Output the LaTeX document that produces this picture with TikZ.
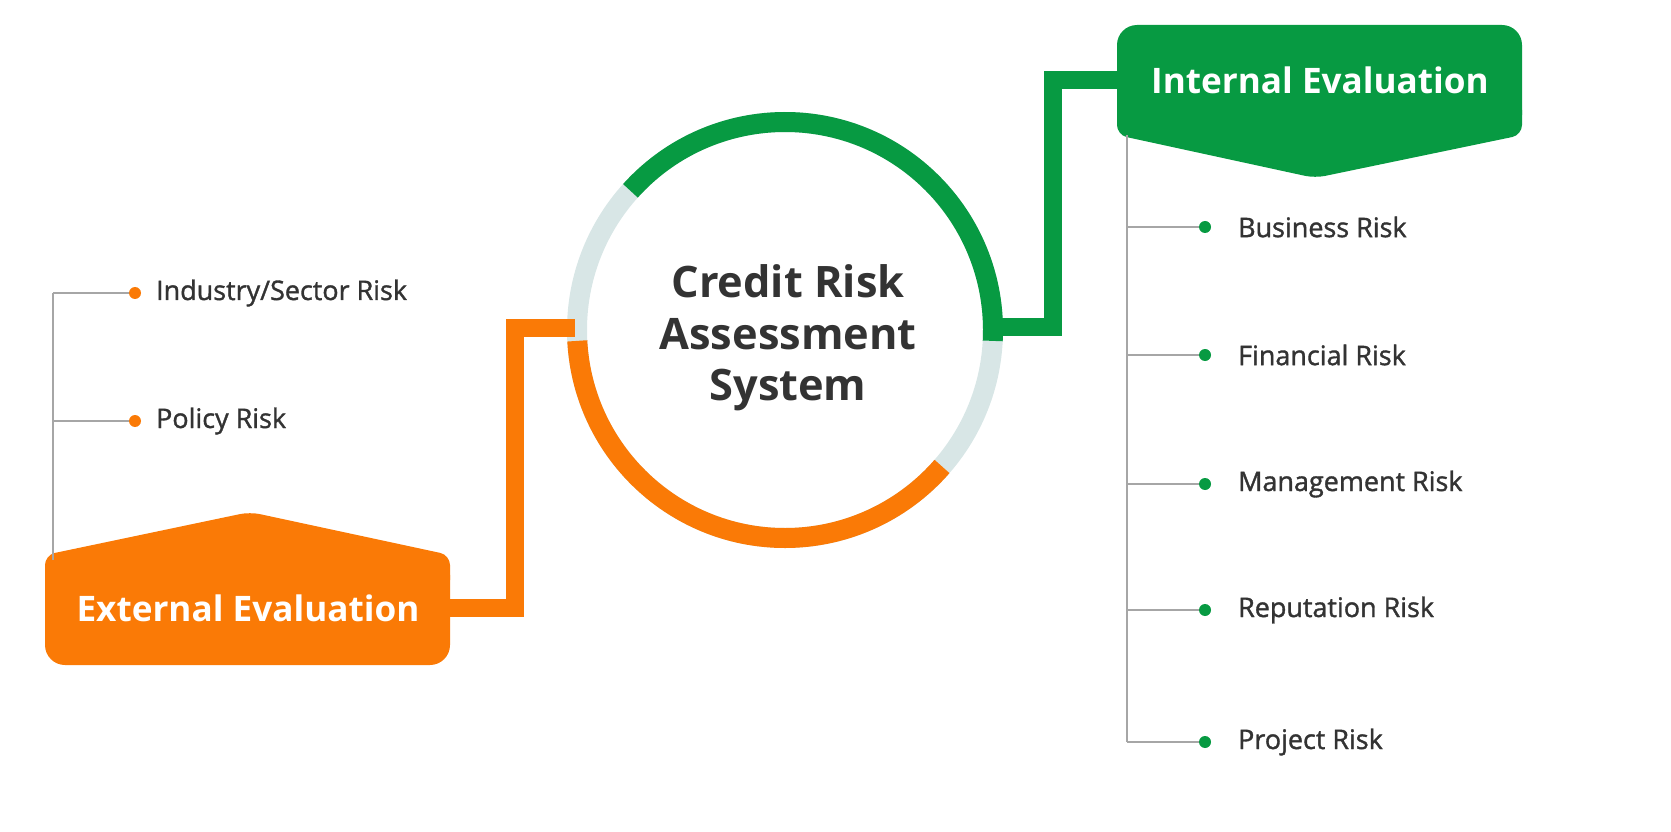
\documentclass[tikz,border=0pt]{standalone}
\usepackage{fontspec}
\setmainfont{Open Sans}
\newfontfamily\medfont[FakeBold=1.3]{Open Sans}
\usetikzlibrary{positioning}
\definecolor{grn}{HTML}{079A42}
\definecolor{org}{HTML}{FA7A06}
\definecolor{ring}{HTML}{D8E6E6}
\definecolor{txt}{HTML}{333333}
\tikzset{
  item/.style={anchor=west, text=txt, font=\medfont\fontsize{23}{28}\selectfont},
  gdot/.style={circle, fill=grn, inner sep=0pt, minimum size=3.6mm},
  odot/.style={circle, fill=org, inner sep=0pt, minimum size=3.6mm},
  twig/.style={draw=gray!70, line width=0.5mm},
}
\begin{document}
\begin{tikzpicture}[x=0.3mm,y=-0.3mm]
        \useasboundingbox (0,0) rectangle (1671,832);

        % ring
        \draw[ring, line width=6mm] (785,330) circle[radius=208];
        \draw[grn, line width=6mm] (785,330) ++(138:208*0.3mm) arc[start angle=138, end angle=-3, radius=208*0.3mm];
        \draw[org, line width=6mm] (785,330) ++(183:208*0.3mm) arc[start angle=183, end angle=319, radius=208*0.3mm];
        \node (core) at (788,338) [align=center, text=txt, font=\bfseries\fontsize{37}{44}\selectfont] {Credit Risk\\Assessment\\System};

        % boxes
        \fill[grn, rounded corners=6mm] (1117,25) rectangle (1522,135);
        \fill[grn, rounded corners=3mm] (1117,100) -- (1522,100) -- (1522,135) -- (1315,178) -- (1117,135) -- cycle;
        \node (intl) at (1320,80) [text=white, font=\bfseries\fontsize{30}{36}\selectfont] {Internal Evaluation};
        \fill[org, rounded corners=6mm] (45,555) rectangle (450,665);
        \fill[org, rounded corners=3mm] (45,590) -- (45,555) -- (250,512) -- (450,555) -- (450,590) -- cycle;
        \node (extl) at (248,608) [text=white, font=\bfseries\fontsize{30}{36}\selectfont] {External Evaluation};

        % connectors
        \coordinate (gin) at (992,327);
        \coordinate (gout) at (1120,80);
        \coordinate (oin) at (575,328);
        \coordinate (oout) at (448,608);
        \draw[grn, line width=5.4mm] (gin) -- (1053,327) -- (1053,80) -- (gout);
        \draw[org, line width=5.4mm] (oout) -- (515,608) -- (515,328) -- (oin);

        % right items
        \coordinate (rtop) at (1127,135);
        \foreach \y/\name/\lbl in {227/bus/Business Risk, 355/fin/Financial Risk, 484/man/Management Risk, 610/rep/Reputation Risk, 742/prj/Project Risk}{
            \node (\name) at (1205,\y) [gdot] {};
            \draw[twig] (1127,\y) -- (\name);
            \node at (1234,\y) [item] {\lbl};
        }
        \draw[twig] (rtop) -- (1127,742);

        % left items
        \foreach \y/\name/\lbl in {293/ind/{Industry/Sector Risk}, 421/pol/Policy Risk}{
            \node (\name) at (135,\y) [odot] {};
            \draw[twig] (53,\y) -- (\name);
            \node at (152,\y) [item] {\lbl};
        }
        \draw[twig] (53,293) -- (53,560);
\end{tikzpicture}
\end{document}
